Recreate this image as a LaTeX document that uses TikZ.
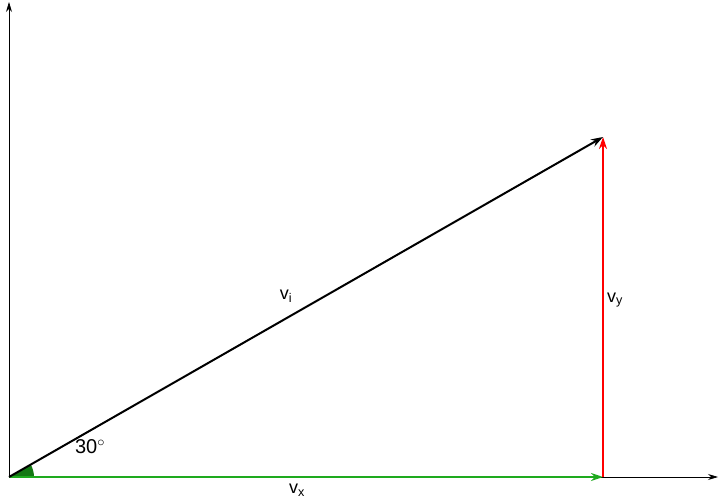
\documentclass[tikz,border=0pt]{standalone}
\usepackage{fontspec}
\setmainfont{Liberation Sans}
\usetikzlibrary{arrows.meta}
\definecolor{vgreen}{RGB}{30,170,30}
\definecolor{wedge}{RGB}{20,120,20}
\begin{document}
\begin{tikzpicture}[x=1pt,y=-1pt,
  axis/.style={line width=0.8pt,-{Stealth[length=10pt,width=6pt]}},
  vec/.style={line width=2pt,-{Stealth[length=12pt,width=8pt]}},
  lab/.style={font=\fontsize{18}{20}\selectfont,inner sep=0pt}]
\useasboundingbox (0,0) rectangle (720,500);
\fill[white] (0,0) rectangle (720,500);
\coordinate (O) at (9,477);
\coordinate (Y) at (9,2);
\coordinate (X) at (718,477);
\coordinate (P) at (603,137);
\coordinate (Q) at (603,477);
\fill[wedge] (O) -- ++(25,0) arc[start angle=0,end angle=-30,radius=25] -- cycle;
\draw[axis] (O) -- (Y);
\draw[axis] (O) -- (X);
\draw[vec,vgreen] (O) -- (Q);
\draw[vec,red] (Q) -- (P);
\draw[vec,black] (O) -- (P);
\node[lab] (vi) at (286,296) {v\textsubscript{i}};
\node[lab] (vy) at (615,300) {v\textsubscript{y}};
\node[lab] (vx) at (297,490) {v\textsubscript{x}};
\node[lab,font=\fontsize{20}{22}\selectfont] (ang) at (90,447) {30$^\circ$};
\end{tikzpicture}
\end{document}
